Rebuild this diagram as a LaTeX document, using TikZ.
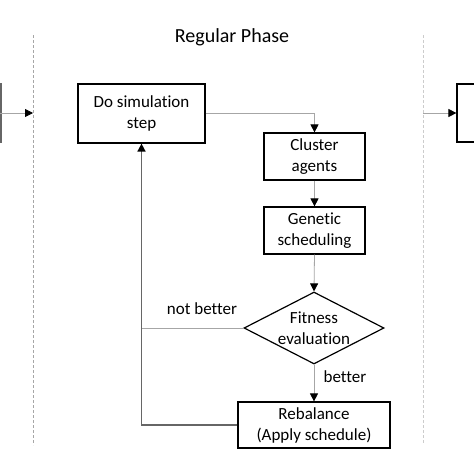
\documentclass[tikz,border=0pt]{standalone}
\usepackage{fontspec}
\setmainfont{Carlito}[RawFeature={-liga}]
\usetikzlibrary{arrows.meta,shapes.geometric}
\begin{document}
\begin{tikzpicture}[x=1pt,y=-1pt,
  every node/.style={font=\fontsize{17}{21}\selectfont, text=black},
  box/.style={draw=black, line width=1.2pt, rectangle, inner sep=0pt, align=center},
  conn/.style={draw=gray!70, line width=0.8pt},
  tip/.style={-{Triangle[color=black,width=8pt,length=8pt]}},
  loopline/.style={draw=black!60, line width=1.6pt},
  divider/.style={draw=gray!70, line width=0.6pt, densely dashed},
  lbl/.style={font=\fontsize{17}{21}\selectfont}
]
\clip (0,0) rectangle (474,474);
\fill[white] (0,0) rectangle (474,474);

% title
\node[font=\fontsize{20}{24}\selectfont] (title) at (232,37) {Regular Phase};

% dividers
\coordinate (dLtop) at (33,35);
\coordinate (dLbot) at (33,445);
\coordinate (dRtop) at (423,35);
\coordinate (dRbot) at (423,443);
\draw[divider] (dLtop) -- (dLbot);
\draw[divider, draw=gray!40] (dRtop) -- (dRbot);

% partial boxes at the edges
\node[box, draw=black!60, line width=2pt, minimum width=62pt, minimum height=58pt] (prev) at (-30,113) {};
\node[box, minimum width=66pt, minimum height=58pt] (next) at (490,113) {};

% main nodes
\node[box, minimum width=127pt, minimum height=59pt] (sim) at (141.5,113.5) {Do simulation\\step};
\node[box, minimum width=101pt, minimum height=47pt] (cluster) at (314.5,156.5) {Cluster\\agents};
\node[box, minimum width=101pt, minimum height=47pt] (genetic) at (314.5,230.5) {Genetic\\scheduling};
\node[diamond, draw=black, line width=1.2pt, inner sep=0pt, minimum width=140pt, minimum height=72pt,
      label={[align=center, font=\fontsize{17}{21}\selectfont, text=black]center:Fitness\\evaluation}] (fitness) at (314,328) {};
\node[box, minimum width=152pt, minimum height=46pt] (rebal) at (314,425) {Rebalance\\(Apply schedule)};

% connectors
\coordinate (inL) at (0,113);
\coordinate (arrL) at (33,113);
\draw[conn, tip] (inL) -- (arrL);
\coordinate (outR) at (423,113);
\draw[conn, tip] (outR) -- (next.west);

\draw[conn, tip] (sim.east) -| (cluster.north);
\draw[conn, tip] (cluster.south) -- (genetic.north);
\draw[conn, tip] (genetic.south) -- (fitness.north);
\draw[conn, tip] (fitness.south) -- (rebal.north);
\draw[conn] (fitness.west) -- (fitness.west -| sim.south);
\draw[loopline, tip] (rebal.west) -| (sim.south);

% labels
\node[lbl] (nb) at (202,309) {not better};
\node[lbl] (b) at (345,377) {better};
\end{tikzpicture}
\end{document}
